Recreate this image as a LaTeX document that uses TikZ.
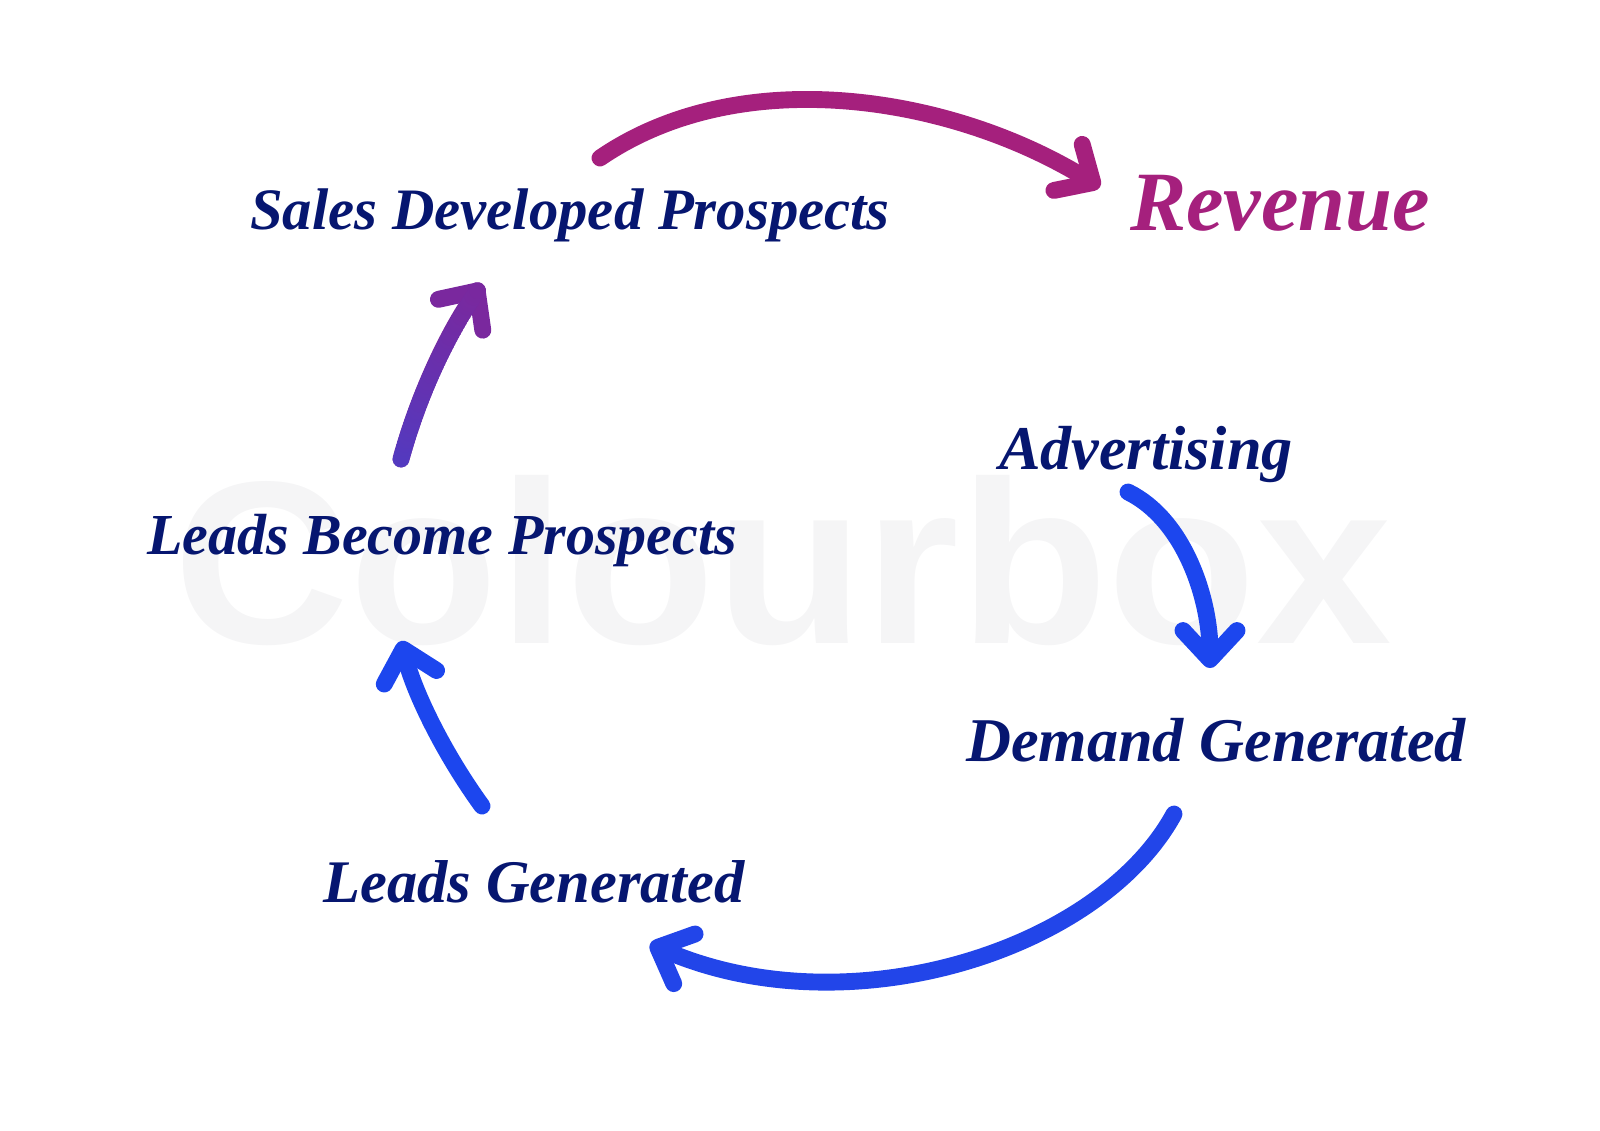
\documentclass[tikz,border=0pt]{standalone}
\usepackage{fontspec}
\setmainfont{Liberation Serif}
\newfontfamily\markfont{Liberation Sans}
\usepackage{xcolor}
\usetikzlibrary{arrows.meta,decorations.markings}

\definecolor{inknavy}{RGB}{6,22,112}
\definecolor{revmagenta}{RGB}{165,32,125}
\definecolor{stepblue}{RGB}{28,70,238}
\definecolor{liftlow}{RGB}{82,58,192}
\definecolor{lifthigh}{RGB}{122,40,158}
\definecolor{markgray}{RGB}{245,245,246}

\tikzset{
    stagetext/.style={font=\fontsize{16.7}{20}\selectfont\itshape\bfseries, text=inknavy, inner sep=0pt},
    flowarrow/.style={line width=4.8pt, line cap=round, -{Straight Barb[round, length=0.29cm, width=0.54cm]}},
    liftmix/.style={decoration={markings, mark=between positions 0 and 0.97 step 0.02 with {
        \pgfmathsetmacro{\mixval}{2*\pgfkeysvalueof{/pgf/decoration/mark info/sequence number}}
        \fill[lifthigh!\mixval!liftlow] (0,0) circle (2.4pt);}}, postaction={decorate}}
}

\begin{document}
\begin{tikzpicture}[x=0.01cm, y=-0.01cm]
    \useasboundingbox (0,0) rectangle (1600,1130);

    % watermark
    \node[font=\fontsize{66}{68}\selectfont\markfont\bfseries, text=markgray, inner sep=0pt, anchor=base, xscale=1.05] (mark) at (783,643) {Colourbox};

    % stages
    \node[stagetext] (sales) at (570,215) {Sales Developed Prospects};
    \node[stagetext, font=\fontsize{24}{26}\selectfont\itshape\bfseries, text=revmagenta] (revenue) at (1280,203) {Revenue};
    \node[stagetext, font=\fontsize{17.7}{20}\selectfont\itshape\bfseries] (advert) at (1146,455) {Advertising};
    \node[stagetext, font=\fontsize{17.7}{20}\selectfont\itshape\bfseries] (demand) at (1216,740) {Demand Generated};
    \node[stagetext, font=\fontsize{17.2}{20}\selectfont\itshape\bfseries] (leadsgen) at (534,882) {Leads Generated};
    \node[stagetext, font=\fontsize{16.5}{20}\selectfont\itshape\bfseries] (prospects) at (442,541) {Leads Become Prospects};

    % arrows
    \draw[flowarrow, revmagenta] ([shift={(30,-57)}]sales.center) .. controls (740,62) and (950,95) .. ([shift={(-180,-16)}]revenue.center);
    \draw[flowarrow, stepblue] ([shift={(-18,37)}]advert.center) .. controls (1185,520) and (1210,600) .. ([shift={(-6,-72)}]demand.center);
    \draw[flowarrow, stepblue!88!liftlow] ([shift={(-42,74)}]demand.center) .. controls (1100,950) and (850,1030) .. ([shift={(116,62)}]leadsgen.center);
    \draw[flowarrow, stepblue] ([shift={(-52,-76)}]leadsgen.center) .. controls (445,755) and (415,695) .. ([shift={(-41,100)}]prospects.center);
    \draw[flowarrow, lifthigh, liftmix] ([shift={(-41,-82)}]prospects.center) .. controls (420,390) and (450,330) .. ([shift={(-88,69)}]sales.center);
\end{tikzpicture}
\end{document}
